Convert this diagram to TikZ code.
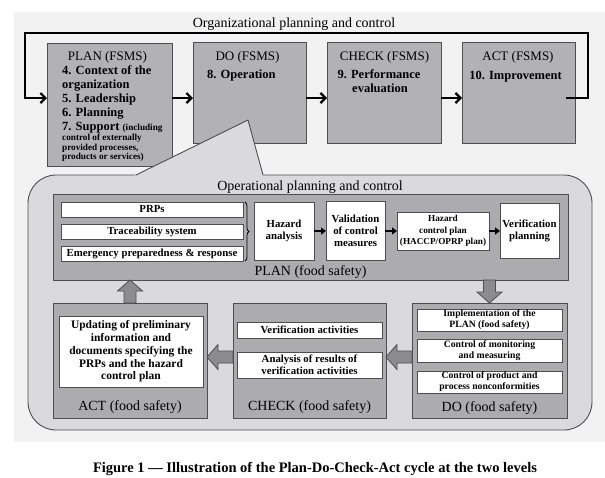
\documentclass[tikz,border=0pt]{standalone}
\usepackage{fontspec}
\setmainfont{Liberation Serif}
\usetikzlibrary{arrows.meta, positioning, calc, decorations.pathreplacing}
\usepackage{xcolor}
\definecolor{panelgray}{RGB}{242,242,242}
\definecolor{fsmsgray}{RGB}{178,178,180}
\definecolor{calloutgray}{RGB}{218,218,220}
\definecolor{foodgray}{RGB}{172,172,174}
\definecolor{arrowgray}{RGB}{140,140,142}
\definecolor{edgegray}{RGB}{78,78,80}
\tikzset{fsmsbox/.style={draw=edgegray, fill=fsmsgray, line width=0.9pt, inner sep=0pt, outer sep=0pt},fsmshead/.style={anchor=base, inner sep=0pt, font=\fontsize{13}{15}\selectfont},fsmsitem/.style={anchor=base west, inner sep=0pt, font=\bfseries\fontsize{12.5}{14}\selectfont},fsmsnote/.style={anchor=base west, inner sep=0pt, font=\bfseries\fontsize{9.2}{10}\selectfont}}
\tikzset{foodbox/.style={draw=edgegray, fill=foodgray, line width=0.9pt, inner sep=0pt, outer sep=0pt},foodlabel/.style={anchor=base, inner sep=0pt, font=\fontsize{14}{16}\selectfont},whitebox/.style={draw=edgegray, fill=white, line width=0.8pt, inner sep=1pt, outer sep=0pt, align=center, font=\bfseries\fontsize{10.8}{12}\selectfont}}
\tikzset{fatarrow/.style={draw=edgegray, fill=arrowgray, line width=0.8pt, line join=miter,
    to path={($(\tikztostart)!6pt!90:(\tikztotarget)$)
      -- ($(\tikztotarget)!11pt!(\tikztostart)!6pt!-90:(\tikztostart)$)
      -- ($(\tikztotarget)!11pt!(\tikztostart)!12.5pt!-90:(\tikztostart)$)
      -- (\tikztotarget)
      -- ($(\tikztotarget)!11pt!(\tikztostart)!12.5pt!90:(\tikztostart)$)
      -- ($(\tikztotarget)!11pt!(\tikztostart)!6pt!90:(\tikztostart)$)
      -- ($(\tikztostart)!6pt!-90:(\tikztotarget)$)
      -- cycle}}}

\begin{document}
\begin{tikzpicture}[
        x=1pt, y=-1pt,
        loopline/.style={draw=black, line width=2.2pt, -{Straight Barb[length=5pt, width=10pt]}},
        smallarrow/.style={draw=black, line width=2.5pt, -{Triangle[length=5pt, width=7pt]}},
        toplabel/.style={anchor=base, inner sep=0pt, font=\fontsize{14}{16}\selectfont},
        figcaption/.style={anchor=base, inner sep=0pt, font=\bfseries\fontsize{14.5}{16}\selectfont},
    ]
        \useasboundingbox (0,0) rectangle (605,477);
        % Background
        \fill[panelgray] (14,12) rectangle (605,442);
        % FSMS level
        \node[fsmsbox, minimum width=125pt, minimum height=123pt] (planF) at (109.5,104.5) {};
        \node[fsmsbox, minimum width=113pt, minimum height=101pt] (doF) at (249.5,93) {};
        \node[fsmsbox, minimum width=114pt, minimum height=101pt] (checkF) at (384,92.5) {};
        \node[fsmsbox, minimum width=113pt, minimum height=101pt] (actF) at (518.5,92.5) {};
        \node[fsmshead] (planFT) at (107.5,60) {PLAN (FSMS)};
        \node[fsmshead] (doFT) at (247.5,60) {DO (FSMS)};
        \node[fsmshead] (checkFT) at (384.5,60) {CHECK (FSMS)};
        \node[fsmshead] (actFT) at (518,60) {ACT (FSMS)};
        \foreach \yy/\txt in {
            74/{4. Context of the},
            88/{organization},
            102/{5. Leadership},
            116/{6. Planning},
            130/{7. Support {\fontsize{9.2}{10}\selectfont(including}}} {
            \node[fsmsitem] at (62,\yy) {\txt};
        }
        \foreach \yy/\txt in {
            140/{control of externally},
            150/{provided processes,},
            159/{products or services)}} {
            \node[fsmsnote] at (62,\yy) {\txt};
        }
        \node[fsmsitem] (doFI) at (207,78) {8. Operation};
        \node[fsmsitem, anchor=base] (checkFI) at (379,78) {9. Performance};
        \node[fsmsitem, anchor=base] (checkFJ) at (380,92) {evaluation};
        \node[fsmsitem, anchor=base] (actFI) at (515.5,79) {10. Improvement};
        \node[toplabel] (orgT) at (294,27) {Organizational planning and control};
        % Loop
        \coordinate (toprow) at (0,98);
        \coordinate (loopS) at (566,98);
        \coordinate (loopNE) at (588,33);
        \coordinate (loopNW) at (25,33);
        \draw[loopline] (loopS) -| (loopNE) -- (loopNW) |- (planF.west |- toprow);
        \foreach \a/\b in {planF/doF, doF/checkF, checkF/actF} {
            \draw[loopline] (\a.east |- toprow) -- (\b.west |- toprow);
        }
        % Callout
        \node[draw=edgegray, fill=calloutgray, line width=0.9pt, rounded corners=28pt,
              minimum width=564pt, minimum height=255pt] (opArea) at (310,302.5) {};
        \coordinate (calloutTip) at (248,120);
        \fill[calloutgray] (134,176) -- (calloutTip) -- (263.3,176) -- cycle;
        \draw[edgegray, line width=0.9pt] (136,175) -- (calloutTip) -- (263,175);
        \node[toplabel] (opT) at (310,190) {Operational planning and control};
        % PLAN (food safety)
        \node[foodbox, minimum width=515pt, minimum height=86pt] (planS) at (310.5,237) {};
        \node[whitebox, minimum width=182pt, minimum height=15pt] (prps) at (152,209.5) {PRPs};
        \node[whitebox, minimum width=182pt, minimum height=15pt, below=7pt of prps] (trace) {Traceability system};
        \node[whitebox, minimum width=182pt, minimum height=15pt, below=7pt of trace] (emerg) {Emergency preparedness \& response};
        \draw[decorate, decoration={brace, amplitude=4pt}, line width=0.8pt] ([xshift=2pt]prps.north east) -- ([xshift=2pt]emerg.south east);
        \node[whitebox, minimum width=60pt, minimum height=58pt] (hazA) at (284,231) {Hazard\\analysis};
        \node[whitebox, minimum width=59pt, minimum height=59pt, right=12pt of hazA] (valid) {Validation\\of control\\measures};
        \node[whitebox, minimum width=92pt, minimum height=38pt, right=12pt of valid,
              font=\bfseries\fontsize{9.2}{11.5}\selectfont] (hcp) {Hazard\\control plan\\(HACCP/OPRP plan)};
        \node[whitebox, minimum width=59pt, minimum height=55pt, right=11pt of hcp] (verP) {Verification\\planning};
        \foreach \a/\b in {hazA/valid, valid/hcp, hcp/verP} {
            \draw[smallarrow] (\a.east) -- (\b.west);
        }
        \node[foodlabel] (planST) at (310.5,275) {PLAN (food safety)};
        % ACT (food safety)
        \node[foodbox, minimum width=154pt, minimum height=115pt] (actS) at (130,360.5) {};
        \node[whitebox, minimum width=144pt, minimum height=71pt,
              font=\bfseries\fontsize{11.5}{12.7}\selectfont] (updt) at (131,351.5) {Updating of preliminary\\information and\\documents specifying the\\PRPs and the hazard\\control plan};
        \node[foodlabel] (actST) at (130,410) {ACT (food safety)};
        % CHECK (food safety)
        \node[foodbox, minimum width=153pt, minimum height=115pt] (checkS) at (309.5,360.5) {};
        \node[whitebox, minimum width=145pt, minimum height=16pt] (verA) at (309.5,330) {Verification activities};
        \node[whitebox, minimum width=145pt, minimum height=26pt] (anaR) at (309.5,365) {Analysis of results of\\verification activities};
        \node[foodlabel] (checkST) at (309.5,410) {CHECK (food safety)};
        % DO (food safety)
        \node[foodbox, minimum width=155pt, minimum height=115pt] (doS) at (489.5,360.5) {};
        \node[whitebox, minimum width=145pt, minimum height=22pt,
              font=\bfseries\fontsize{9.7}{11}\selectfont] (impl) at (489.5,320) {Implementation of the\\PLAN (food safety)};
        \node[whitebox, minimum width=145pt, minimum height=23pt,
              font=\bfseries\fontsize{9.7}{11}\selectfont] (monit) at (489.5,350.5) {Control of monitoring\\and measuring};
        \node[whitebox, minimum width=145pt, minimum height=22pt,
              font=\bfseries\fontsize{9.7}{11}\selectfont] (nonc) at (489.5,382) {Control of product and\\process nonconformities};
        \node[foodlabel] (doST) at (489.5,411) {DO (food safety)};
        % Block arrows
        \coordinate (midrow) at (0,357);
        \draw[fatarrow] (doS.north |- planS.south) to (doS.north);
        \draw[fatarrow] (doS.west |- midrow) to (checkS.east |- midrow);
        \draw[fatarrow] (checkS.west |- midrow) to (actS.east |- midrow);
        \draw[fatarrow] (actS.north) to (actS.north |- planS.south);
        % Caption
        \node[figcaption] (figT) at (315,472) {Figure 1 — Illustration of the Plan-Do-Check-Act cycle at the two levels};
    \end{tikzpicture}
\end{document}
